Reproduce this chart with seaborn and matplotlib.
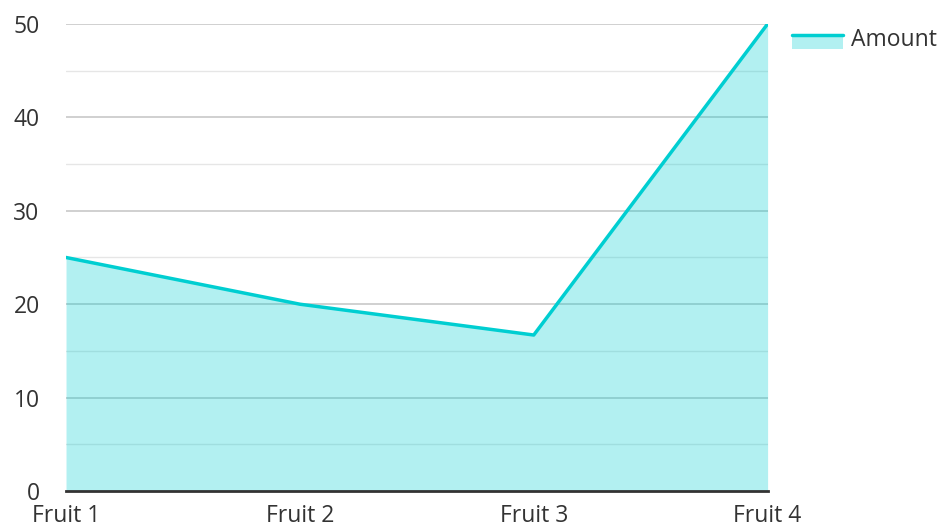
import pandas as pd
import matplotlib.pyplot as plt
import seaborn as sns
from matplotlib.patches import Rectangle
from matplotlib.lines import Line2D
from matplotlib.legend_handler import HandlerBase

# chart data
fruits = ["Fruit 1", "Fruit 2", "Fruit 3", "Fruit 4"]
amounts = [25, 20, 16.7, 50]

df = pd.DataFrame({"fruit": fruits, "amount": amounts})
df["pos"] = range(len(df))

sns.set_theme(style="white")
plt.rcParams["font.family"] = ["Open Sans", "DejaVu Sans"]

line_color = "#00CED1"
text_color = "#333333"


class AreaHandler(HandlerBase):
    # line on top, light fill underneath, like the area legend key
    def create_artists(self, legend, orig_handle, xdescent, ydescent,
                       width, height, fontsize, trans):
        top = height * 0.7
        rect = Rectangle((-xdescent, -ydescent - height * 0.15), width, top + height * 0.15,
                         facecolor=line_color, alpha=0.3, lw=0, transform=trans)
        line = Line2D([-xdescent, -xdescent + width], [top - ydescent] * 2,
                      color=line_color, lw=2.5, transform=trans)
        return [rect, line]


fig = plt.figure(figsize=(9.5, 5.32), dpi=100)
ax = fig.add_axes([0.0695, 0.077, 0.7385, 0.878])

# grid: major every 10, minor every 5
for y in range(5, 51, 10):
    ax.axhline(y, color="#e6e6e6", lw=1, zorder=0)
for y in range(10, 51, 10):
    ax.axhline(y, color="#c8c8c8", lw=1.2, zorder=0)

ax.fill_between(df["pos"], df["amount"], 0, color=line_color, alpha=0.3, lw=0, zorder=1)
sns.lineplot(data=df, x="pos", y="amount", color=line_color, lw=2.5, ax=ax, zorder=3)

ax.set_xlim(0, 3)
ax.set_ylim(0, 50)
ax.set_xticks(df["pos"])
ax.set_xticklabels(fruits)
ax.set_yticks(range(0, 51, 10))
ax.set_xlabel("")
ax.set_ylabel("")
ax.tick_params(axis="x", length=0, pad=9, labelsize=16.5, labelcolor=text_color)
ax.tick_params(axis="y", length=0, pad=19, labelsize=16.5, labelcolor=text_color)

for side in ["top", "right", "left"]:
    ax.spines[side].set_visible(False)
ax.spines["bottom"].set_color(text_color)
ax.spines["bottom"].set_linewidth(2)
ax.spines["bottom"].set_zorder(4)

key = Rectangle((0, 0), 1, 1)
ax.legend([key], ["Amount"], handler_map={Rectangle: AreaHandler()},
          loc="upper left", bbox_to_anchor=(1.006, 1.035),
          frameon=False, fontsize=16.5, handlelength=2.2, handletextpad=0.35,
          labelcolor=text_color)

fig.savefig("out.png", dpi=100)
